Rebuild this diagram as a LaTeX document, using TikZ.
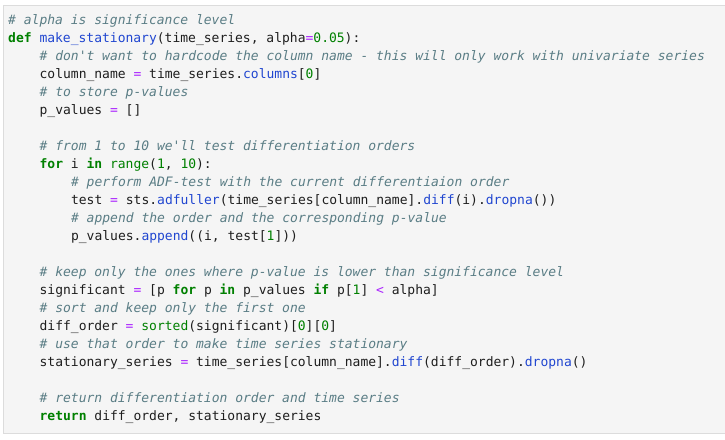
\documentclass[tikz,border=0pt]{standalone}
\usepackage{fontspec}
\setmonofont{DejaVu Sans Mono}
\definecolor{bgc}{HTML}{F5F5F5}
\definecolor{frm}{HTML}{DCDCDC}
\definecolor{cmc}{HTML}{5A7D85}
\definecolor{kwc}{HTML}{008000}
\definecolor{fnc}{HTML}{2046D0}
\definecolor{opc}{HTML}{AA22FF}
\definecolor{txc}{HTML}{1E1E1E}
\newcommand{\cmt}[1]{{\color{cmc}\itshape #1}}
\newcommand{\kw}[1]{{\color{kwc}\bfseries #1}}
\newcommand{\bi}[1]{{\color{kwc}#1}}
\newcommand{\fn}[1]{{\color{fnc}#1}}
\newcommand{\op}[1]{{\color{opc}#1}}
\newcommand{\nm}[1]{{\color{kwc}#1}}
\begin{document}
\begin{tikzpicture}[x=1pt,y=-1pt,
  codeline/.style={anchor=base west,inner sep=0pt,text=txc,font=\ttfamily\fontsize{13}{18}\selectfont}]
\useasboundingbox (0,0) rectangle (725,439);
\fill[bgc] (3,5) rectangle (725,433);
\draw[frm,line width=1pt] (725,5) -- (3,5) -- (3,433) -- (725,433);
\newcommand{\ind}[1]{8+#1*7.86}
\node[codeline] (l0) at ({\ind{0}},24.5) {\cmt{\# alpha is significance level}};
\node[codeline] (l1) at ({\ind{0}},42.5) {\kw{def} \fn{make\_stationary}(time\_series, alpha\op{=}\nm{0.05}):};
\node[codeline] (l2) at ({\ind{4}},60.5) {\cmt{\# don't want to hardcode the column name - this will only work with univariate series}};
\node[codeline] (l3) at ({\ind{4}},78.5) {column\_name \op{=} time\_series.\fn{columns}[\nm{0}]};
\node[codeline] (l4) at ({\ind{4}},96.5) {\cmt{\# to store p-values}};
\node[codeline] (l5) at ({\ind{4}},114.5) {p\_values \op{=} []};
\node[codeline] (l7) at ({\ind{4}},150.5) {\cmt{\# from 1 to 10 we'll test differentiation orders}};
\node[codeline] (l8) at ({\ind{4}},168.5) {\kw{for} i \kw{in} \bi{range}(\nm{1}, \nm{10}):};
\node[codeline] (l9) at ({\ind{8}},186.5) {\cmt{\# perform ADF-test with the current differentiaion order}};
\node[codeline] (l10) at ({\ind{8}},204.5) {test \op{=} sts.\fn{adfuller}(time\_series[column\_name].\fn{diff}(i).\fn{dropna}())};
\node[codeline] (l11) at ({\ind{8}},222.5) {\cmt{\# append the order and the corresponding p-value}};
\node[codeline] (l12) at ({\ind{8}},240.5) {p\_values.\fn{append}((i, test[\nm{1}]))};
\node[codeline] (l14) at ({\ind{4}},276.5) {\cmt{\# keep only the ones where p-value is lower than significance level}};
\node[codeline] (l15) at ({\ind{4}},294.5) {significant \op{=} [p \kw{for} p \kw{in} p\_values \kw{if} p[\nm{1}] \op{<} alpha]};
\node[codeline] (l16) at ({\ind{4}},312.5) {\cmt{\# sort and keep only the first one}};
\node[codeline] (l17) at ({\ind{4}},330.5) {diff\_order \op{=} \bi{sorted}(significant)[\nm{0}][\nm{0}]};
\node[codeline] (l18) at ({\ind{4}},348.5) {\cmt{\# use that order to make time series stationary}};
\node[codeline] (l19) at ({\ind{4}},366.5) {stationary\_series \op{=} time\_series[column\_name].\fn{diff}(diff\_order).\fn{dropna}()};
\node[codeline] (l21) at ({\ind{4}},402.5) {\cmt{\# return differentiation order and time series}};
\node[codeline] (l22) at ({\ind{4}},420.5) {\kw{return} diff\_order, stationary\_series};
\end{tikzpicture}
\end{document}
